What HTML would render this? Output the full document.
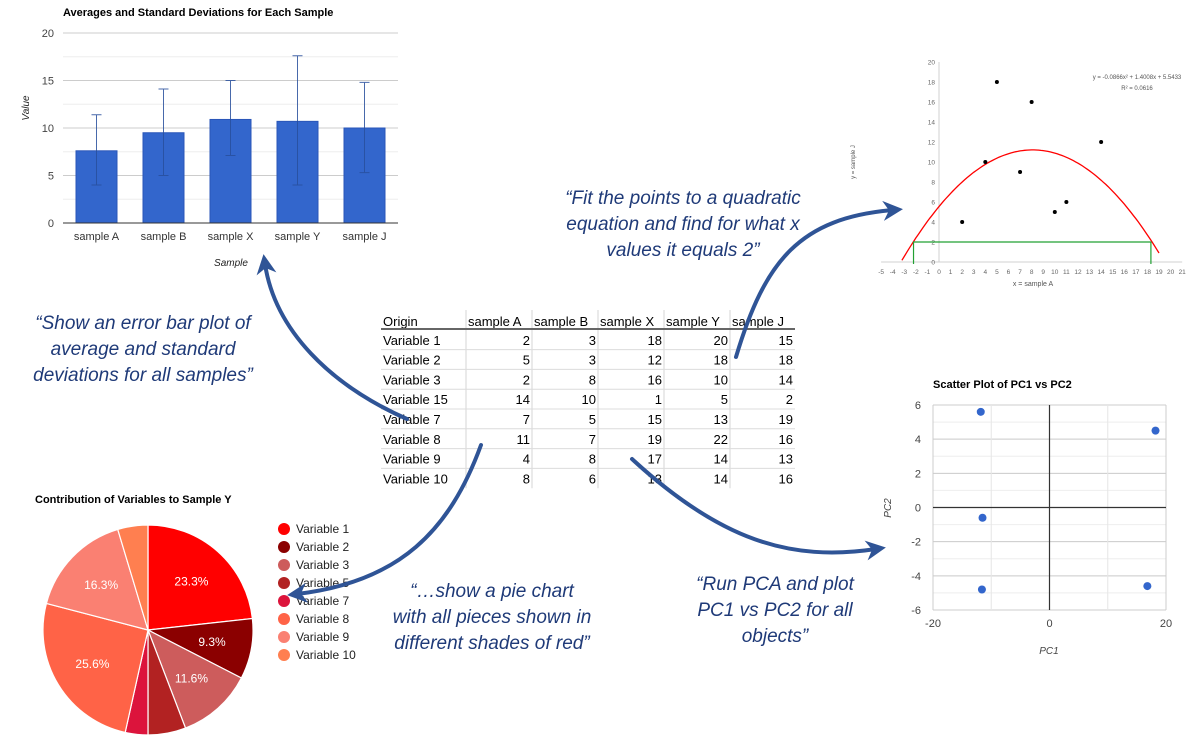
<!DOCTYPE html>
<html><head><meta charset="utf-8"><style>
body{margin:0;background:#fff;}
svg text{font-family:"Liberation Sans",sans-serif;}
.q{font-style:italic;font-size:19px;fill:#1f3a78;text-anchor:middle;}
.t{font-size:13px;fill:#000;}
</style></head><body>
<svg id="root" width="1200" height="746" viewBox="0 0 1200 746" xmlns="http://www.w3.org/2000/svg">
<defs>
<marker id="ah" viewBox="0 0 10 10" refX="5" refY="5" markerWidth="5" markerHeight="5" orient="auto"><path d="M0,0 L10,5 L0,10 L3,5 Z" fill="#2f5496"/></marker>
</defs>
<g id="bar"></g>
<g id="quad"></g>
<g id="tbl"></g>
<g id="pie"></g>
<g id="sc"></g>
<g fill="none" stroke="#2f5496" stroke-width="4" stroke-linecap="round">
<path d="M407,419 C330,385 275,330 265,264" marker-end="url(#ah)"/>
<path d="M736,357 C765,260 800,218 893,210" marker-end="url(#ah)"/>
<path d="M481,445 C450,530 400,582 297,594" marker-end="url(#ah)"/>
<path d="M632,459 C720,540 790,562 876,549" marker-end="url(#ah)"/>
</g>
<g>
<text class="q" x="143" y="329"><tspan x="143">“Show an error bar plot of</tspan><tspan x="143" dy="26">average and standard</tspan><tspan x="143" dy="26">deviations for all samples”</tspan></text>
<text class="q" x="683" y="204"><tspan x="683">“Fit the points to a quadratic</tspan><tspan x="683" dy="26">equation and find for what x</tspan><tspan x="683" dy="26">values it equals 2”</tspan></text>
<text class="q" x="492" y="597"><tspan x="492">“…show a pie chart</tspan><tspan x="492" dy="26">with all pieces shown in</tspan><tspan x="492" dy="26">different shades of red”</tspan></text>
<text class="q" x="775" y="590"><tspan x="775">“Run PCA and plot</tspan><tspan x="775" dy="26">PC1 vs PC2 for all</tspan><tspan x="775" dy="26">objects”</tspan></text>
</g>
</svg>
<script>
const NS='http://www.w3.org/2000/svg';
function mk(p,tag,a,txt){const e=document.createElementNS(NS,tag);for(const k in a)e.setAttribute(k,a[k]);if(txt!==undefined)e.textContent=txt;p.appendChild(e);return e;}

// ---- bar chart data
const barCats=['sample A','sample B','sample X','sample Y','sample J'];
const barMeans=[7.6,9.5,10.9,10.7,10.0];
const barLow=[4.0,5.0,7.1,4.0,5.3];
const barHigh=[11.4,14.1,15.0,17.6,14.8];
const barTicks=[0,5,10,15,20];

// ---- quadratic data
const quadX=[2,4,5,7,8,10,11,14];
const quadY=[4,10,18,9,16,5,6,12];
const quadCoef=[-0.0866,1.4008,5.5433];
const quadXTicks=[-5,-4,-3,-2,-1,0,1,2,3,4,5,6,7,8,9,10,11,12,13,14,15,16,17,18,19,20,21];
const quadYTicks=[0,2,4,6,8,10,12,14,16,18,20];
const quadRoots=[-2.2,18.3];
const quadTarget=2;

// ---- table data
const tblHead=['Origin','sample A','sample B','sample X','sample Y','sample J'];
const tblRows=['Variable 1','Variable 2','Variable 3','Variable 15','Variable 7','Variable 8','Variable 9','Variable 10'];
const tblA=[2,5,2,14,7,11,4,8];
const tblB=[3,3,8,10,5,7,8,6];
const tblX=[18,12,16,1,15,19,17,13];
const tblY=[20,18,10,5,13,22,14,14];
const tblJ=[15,18,14,2,19,16,13,16];

// ---- pie data
const pieLabels=['Variable 1','Variable 2','Variable 3','Variable 5','Variable 7','Variable 8','Variable 9','Variable 10'];
const pieValues=[20,8,10,5,3,22,14,4];
const pieColors=['#ff0000','#8b0000','#cd5c5c','#b22222','#dc143c','#ff6347','#fa8072','#ff7f50'];

// ---- scatter data
const scX=[-11.8,18.2,-11.5,-11.6,16.8];
const scY=[5.6,4.5,-0.6,-4.8,-4.6];
const scXTicks=[-20,0,20];
const scYTicks=[-6,-4,-2,0,2,4,6];

// ===== bar chart
(function(){
const g=document.getElementById('bar');
const x0=63,x1=398,yb=223,yt=33;
const ys=v=>yb-(v/20)*(yb-yt);
const band=(x1-x0)/barCats.length;const xc=i=>x0+band*(i+0.5);
let t=mk(g,'text',{x:63,y:16,'font-size':11,'font-weight':'bold',fill:'#000'},'Averages and Standard Deviations for Each Sample');

for(let v=2.5;v<=20;v+=2.5){const l=mk(g,'line',{x1:x0,x2:x1,y1:ys(v),y2:ys(v),stroke:v%5===0?'#ccc':'#eee','stroke-width':1});}
barTicks.forEach(v=>{const e=mk(g,'text',{x:54,y:ys(v)+4,'font-size':11,fill:'#444','text-anchor':'end'},String(v));});
barCats.forEach((c,i)=>{
 const w=41;const r=mk(g,'rect',{x:xc(i)-w/2,y:ys(barMeans[i]),width:w,height:yb-ys(barMeans[i]),fill:'#3366cc',stroke:'#2a56b8'});
 
 const e=mk(g,'path',{d:`M${xc(i)},${ys(barLow[i])}V${ys(barHigh[i])}M${xc(i)-5},${ys(barLow[i])}h10M${xc(i)-5},${ys(barHigh[i])}h10`,stroke:'#284f9c','stroke-width':1,fill:'none',opacity:0.85});
 
 const l=mk(g,'text',{x:xc(i),y:240,'font-size':11,fill:'#333','text-anchor':'middle'},c);
 
});
const ax=mk(g,'line',{x1:x0,x2:x1,y1:yb,y2:yb,stroke:'#333'});
t=mk(g,'text',{x:231,y:266,'font-size':10,'font-style':'italic',fill:'#222','text-anchor':'middle'},'Sample');
t=mk(g,'text',{x:0,y:0,'font-size':10,'font-style':'italic',fill:'#222','text-anchor':'middle',transform:'translate(29,108) rotate(-90)'},'Value');
})();

// ===== quadratic chart
(function(){
const g=document.getElementById('quad');
const xs=v=>939+v*11.58, ys=v=>262-v*10;
const a=mk(g,'path',{d:`M${xs(-5)},${ys(0)}H${xs(21)}M${xs(0)},${ys(0)}V${ys(20)}`,stroke:'#d0d0d0','stroke-width':1,fill:'none'});

quadXTicks.forEach(v=>{const e=mk(g,'text',{x:xs(v),y:274,'font-size':6.5,fill:'#666','text-anchor':'middle'},String(v));});
quadYTicks.forEach(v=>{const e=mk(g,'text',{x:xs(0)-4,y:ys(v)+2.5,'font-size':6.5,fill:'#666','text-anchor':'end'},String(v));});
let d='';for(let x=-3.2;x<=19.01;x+=0.2){const y=quadCoef[0]*x*x+quadCoef[1]*x+quadCoef[2];d+=(d?'L':'M')+xs(x).toFixed(1)+','+ys(y).toFixed(1);}
const c=mk(g,'path',{d:d,stroke:'#ff0000','stroke-width':1.3,fill:'none'});
const gr=mk(g,'path',{d:`M${xs(quadRoots[0])},${ys(-0.2)}V${ys(quadTarget)}H${xs(quadRoots[1])}V${ys(-0.2)}`,stroke:'#22a033','stroke-width':1.2,fill:'none'});

quadX.forEach((x,i)=>{const p=mk(g,'circle',{cx:xs(x),cy:ys(quadY[i]),r:2,fill:'#000'});});
let t=mk(g,'text',{x:1137,y:79,'font-size':6,fill:'#555','text-anchor':'middle'},'y = -0.0866x² + 1.4008x + 5.5433');
t=mk(g,'text',{x:1137,y:90,'font-size':6,fill:'#555','text-anchor':'middle'},'R² = 0.0616');
t=mk(g,'text',{x:1033,y:286,'font-size':7,fill:'#555','text-anchor':'middle'},'x = sample A');
t=mk(g,'text',{x:0,y:0,'font-size':6,fill:'#555','text-anchor':'middle',transform:'translate(855,162) rotate(-90)'},'y = sample J');
})();

// ===== table
(function(){
const g=document.getElementById('tbl');
const colL=[383,466,532,598,664,730],colR=[466,532,598,664,730,795];
const top=310,rh=19.8;
for(let i=1;i<6;i++){const l=mk(g,'line',{x1:colL[i],x2:colL[i],y1:top,y2:top+rh*9,stroke:'#e3e3e3','stroke-width':1.5});}
tblHead.forEach((h,i)=>{const e=mk(g,'text',{class:'t',x:colL[i]+(i?2:0),y:top+16},h);});
const hl=mk(g,'line',{x1:381,x2:795,y1:top+19,y2:top+19,stroke:'#666','stroke-width':2});
const cols=[tblA,tblB,tblX,tblY,tblJ];
tblRows.forEach((r,j)=>{
 const y=top+rh*(j+1);
 if(j<7){const l=mk(g,'line',{x1:381,x2:795,y1:y+rh,y2:y+rh,stroke:'#dcdcdc','stroke-width':1});}
 let e=mk(g,'text',{class:'t',x:383,y:y+15},r);
 cols.forEach((c,i)=>{e=mk(g,'text',{class:'t',x:colR[i+1]-2,y:y+15,'text-anchor':'end'},String(c[j]));});
});
})();

// ===== pie
(function(){
const g=document.getElementById('pie');
const cx=148,cy=630,R=105;
let t=mk(g,'text',{x:35,y:503,'font-size':11,'font-weight':'bold',fill:'#000'},'Contribution of Variables to Sample Y');
const tot=pieValues.reduce((a,b)=>a+b,0);let ang=0;
pieValues.forEach((v,i)=>{
 const a0=ang,a1=ang+v/tot*2*Math.PI;ang=a1;
 const p=(a)=>[cx+R*Math.sin(a),cy-R*Math.cos(a)];
 const [x0,y0]=p(a0),[x1,y1]=p(a1);
 const s=mk(g,'path',{d:`M${cx},${cy}L${x0},${y0}A${R},${R} 0 ${a1-a0>Math.PI?1:0} 1 ${x1},${y1}Z`,fill:pieColors[i],stroke:'#fff','stroke-width':1.2});
 
 const pct=v/tot*100;
 if(pct>8){const am=(a0+a1)/2;const e=mk(g,'text',{x:cx+R*0.62*Math.sin(am),y:cy-R*0.62*Math.cos(am)+4,'font-size':12,fill:'#fff','text-anchor':'middle'},pct.toFixed(1)+'%');}
 const ly=529+i*18;
 const lc=mk(g,'circle',{cx:284,cy:ly,r:6,fill:pieColors[i]});
 const lt=mk(g,'text',{x:296,y:ly+4,'font-size':12,fill:'#222'},pieLabels[i]);
});
})();

// ===== scatter
(function(){
const g=document.getElementById('sc');
const xs=v=>933+(v+20)/40*233, ys=v=>610-(v+6)/12*205;
let t=mk(g,'text',{x:933,y:388,'font-size':11,'font-weight':'bold',fill:'#000'},'Scatter Plot of PC1 vs PC2');
for(let v=-5;v<=5;v++){const l=mk(g,'line',{x1:xs(-20),x2:xs(20),y1:ys(v),y2:ys(v),stroke:'#eee'});}
scYTicks.forEach(v=>{if(v!==0){const l=mk(g,'line',{x1:xs(-20),x2:xs(20),y1:ys(v),y2:ys(v),stroke:'#ccc'});}
 const e=mk(g,'text',{x:921,y:ys(v)+4,'font-size':11,fill:'#444','text-anchor':'end'},String(v));});
[-10,10].forEach(v=>{const l=mk(g,'line',{x1:xs(v),x2:xs(v),y1:ys(6),y2:ys(-6),stroke:'#e6e6e6'});});
[-20,20].forEach(v=>{const l=mk(g,'line',{x1:xs(v),x2:xs(v),y1:ys(6),y2:ys(-6),stroke:'#ccc'});});
const ax=mk(g,'path',{d:`M${xs(-20)},${ys(0)}H${xs(20)}M${xs(0)},${ys(6)}V${ys(-6)}`,stroke:'#333','stroke-width':1.2,fill:'none'});
scXTicks.forEach(v=>{const e=mk(g,'text',{x:xs(v),y:627,'font-size':11,fill:'#444','text-anchor':'middle'},String(v));});
scX.forEach((x,i)=>{const p=mk(g,'circle',{cx:xs(x),cy:ys(scY[i]),r:4,fill:'#3366cc'});});
t=mk(g,'text',{x:1049,y:654,'font-size':10,'font-style':'italic',fill:'#444','text-anchor':'middle'},'PC1');
t=mk(g,'text',{x:0,y:0,'font-size':10,'font-style':'italic',fill:'#444','text-anchor':'middle',transform:'translate(891,508) rotate(-90)'},'PC2');
})();
</script>
</body></html>
